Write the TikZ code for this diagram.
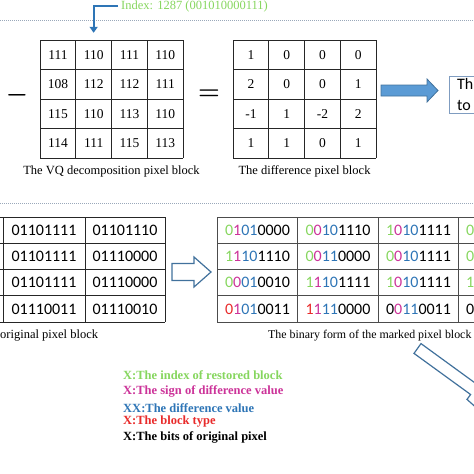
\documentclass[tikz,border=0pt]{standalone}
\usepackage{fontspec}
\setmainfont{Liberation Serif}
\newfontfamily\calib{Carlito}
\usetikzlibrary{arrows.meta}
\definecolor{cgreen}{HTML}{86D65E}
\definecolor{cmag}{HTML}{CC3399}
\definecolor{cblue}{HTML}{2E75B6}
\definecolor{cred}{HTML}{E82A2A}
\definecolor{sepcol}{HTML}{9AA8BA}
\definecolor{arrfill}{HTML}{5B9BD5}
\definecolor{arrdraw}{HTML}{41719C}
\definecolor{boxcol}{HTML}{7F9CC0}
\newcommand\mkbits[5]{\textcolor{#1}{#2}\textcolor{cmag}{#3}\textcolor{cblue}{#4}#5}
\begin{document}
\begin{tikzpicture}[x=1pt,y=-1pt,
  cell/.style={inner sep=0pt, font=\fontsize{13.5}{14}\selectfont},
  bincell/.style={inner sep=0pt, font=\calib\fontsize{16}{18}\selectfont},
  captext/.style={inner sep=0pt, font=\fontsize{12.5}{14}\selectfont},
  leg/.style={inner sep=0pt, anchor=west, font=\bfseries\fontsize{12.5}{14}\selectfont},
  gridline/.style={draw=black!85, line width=0.9pt},
  mgridline/.style={draw=black!70, line width=0.9pt},
  dotline/.style={draw=sepcol, line width=1pt, dash pattern=on 1pt off 1pt},
  idxarrow/.style={draw=cblue, line width=2pt, -{Triangle[length=6pt,width=8pt]}},
  fillarrow/.style={fill=arrfill, draw=arrdraw, line width=0.8pt},
  hollowarrow/.style={fill=white, draw=arrdraw, line width=1.2pt, line join=miter},
  opsign/.style={inner sep=0pt, font=\boldmath\fontsize{25}{25}\selectfont},
]
\useasboundingbox (0,0) rectangle (474,474);
\clip (0,0) rectangle (474,474);

% separators
\draw[dotline] (0,20) -- (474,20);
\draw[dotline] (0,203) -- (474,203);

% index label and arrow
\node[inner sep=3pt, anchor=west, text=cgreen, font=\fontsize{12.5}{14}\selectfont] (idx) at (118,6) {Index: 1287 (001010000111)};

% minus and equals
\node[opsign] (minus) at (17,95.5) {$-$};
\node[opsign] (equals) at (209,95) {$=$};

% VQ table
\foreach \x in {40,75.75,111.5,147.25,183} \draw[gridline] (\x,40) -- (\x,158);
\foreach \y in {40,69.5,99,128.5,158} \draw[gridline] (40,\y) -- (183,\y);
\foreach \r/\vals in {1/{111,110,111,110},2/{108,112,112,111},3/{115,110,113,110},4/{114,111,115,113}}{
  \foreach \v [count=\c] in \vals {
    \node[cell, minimum width=35.75pt, minimum height=29.5pt] (v\r\c) at ({40+(\c-0.5)*35.75},{40+(\r-0.5)*29.5}) {\v};
  }
}
\node[captext] (vqcap) at (111.5,171) {The VQ decomposition pixel block};
\draw[idxarrow, shorten >=7pt] (idx.west) -| (v12.north);

% difference table
\foreach \x in {233,268.75,304.5,340.25,376} \draw[gridline] (\x,40) -- (\x,158);
\foreach \y in {40,69.5,99,128.5,158} \draw[gridline] (233,\y) -- (376,\y);
\foreach \r/\vals in {1/{1,0,0,0},2/{2,0,0,1},3/{-1,1,-2,2},4/{1,1,0,1}}{
  \foreach \v [count=\c] in \vals {
    \node[cell] (d\r\c) at ({233+(\c-0.5)*35.75},{40+(\r-0.5)*29.5}) {\v};
  }
}
\node[captext] (dcap) at (304.5,171) {The difference pixel block};

% blue filled arrow
\draw[fillarrow] (381,85) -- (427,85) -- (427,79) -- (438,90.5) -- (427,102) -- (427,96) -- (381,96) -- cycle;

% text box (cropped)
\draw[boxcol, line width=0.9pt] (449,76) rectangle (490,113);
\node[inner sep=0pt, anchor=base west, font=\calib\fontsize{16}{18}\selectfont] (tb1) at (457,89) {Th};
\node[inner sep=0pt, anchor=base west, font=\calib\fontsize{16}{18}\selectfont] (tb2) at (457,110) {to};

% original binary table (cropped)
\foreach \x in {3,85,165} \draw[gridline] (\x,217) -- (\x,322);
\foreach \y in {217,243.25,269.5,295.75,322} \draw[gridline] (0,\y) -- (165,\y);
\foreach \r/\a/\b in {1/01101111/01101110,2/01101111/01110000,3/01101111/01110000,4/01110011/01110010}{
  \node[bincell] (o\r a) at (44,{217+(\r-0.5)*26.25}) {\a};
  \node[bincell] (o\r b) at (125,{217+(\r-0.5)*26.25}) {\b};
}
\node[captext, anchor=west] (ocap) at (0,336) {original pixel block};

% hollow arrow
\draw[hollowarrow] (172,263.5) -- (194,263.5) -- (194,257) -- (211,272) -- (194,287) -- (194,280.5) -- (172,280.5) -- cycle;

% marked binary table (cropped)
\foreach \x in {217,297.5,378,458.5} \draw[mgridline] (\x,217) -- (\x,322);
\foreach \y in {217,243.25,269.5,295.75,322} \draw[mgridline] (217,\y) -- (474,\y);
\node[bincell] (m11) at (257.5,230.1) {\mkbits{cgreen}{0}{1}{01}{0000}};
\node[bincell] (m12) at (338,230.1) {\mkbits{cgreen}{0}{0}{10}{1110}};
\node[bincell] (m13) at (418.5,230.1) {\mkbits{cgreen}{1}{0}{10}{1111}};
\node[bincell, anchor=west] (m14) at (466,230.1) {\textcolor{cgreen}{0}};
\node[bincell] (m21) at (257.5,256.4) {\mkbits{cgreen}{1}{1}{10}{1110}};
\node[bincell] (m22) at (338,256.4) {\mkbits{cgreen}{0}{0}{11}{0000}};
\node[bincell] (m23) at (418.5,256.4) {\mkbits{cgreen}{0}{0}{10}{1111}};
\node[bincell, anchor=west] (m24) at (466,256.4) {\textcolor{cgreen}{0}};
\node[bincell] (m31) at (257.5,282.6) {\mkbits{cgreen}{0}{0}{01}{0010}};
\node[bincell] (m32) at (338,282.6) {\mkbits{cgreen}{1}{1}{10}{1111}};
\node[bincell] (m33) at (418.5,282.6) {\mkbits{cgreen}{1}{0}{10}{1111}};
\node[bincell, anchor=west] (m34) at (466,282.6) {\textcolor{cgreen}{1}};
\node[bincell] (m41) at (257.5,308.9) {\mkbits{cred}{0}{1}{01}{0011}};
\node[bincell] (m42) at (338,308.9) {\mkbits{cred}{1}{1}{11}{0000}};
\node[bincell] (m43) at (418.5,308.9) {\mkbits{black}{0}{0}{11}{0011}};
\node[bincell, anchor=west] (m44) at (466,308.9) {0};
\node[captext, anchor=west, font=\fontsize{11.9}{14}\selectfont] (mcap) at (268,336) {The binary form of the marked pixel block};

% diagonal hollow arrow (cropped)
\draw[hollowarrow] (421,343.6) -- (477.6,384.8) -- (484.6,375.1) -- (490,420) -- (467,399.4) -- (470.6,394.5) -- (414,353.4) -- cycle;

% legend
\node[leg, text=cgreen] (l1) at (123,375) {X:The index of restored block};
\node[leg, text=cmag] (l2) at (123,391) {X:The sign of difference value};
\node[leg, text=cblue] (l3) at (123,408) {XX:The difference value};
\node[leg, text=cred] (l4) at (123,422) {X:The block type};
\node[leg, text=black] (l5) at (123,437) {X:The bits of original pixel};
\end{tikzpicture}
\end{document}
